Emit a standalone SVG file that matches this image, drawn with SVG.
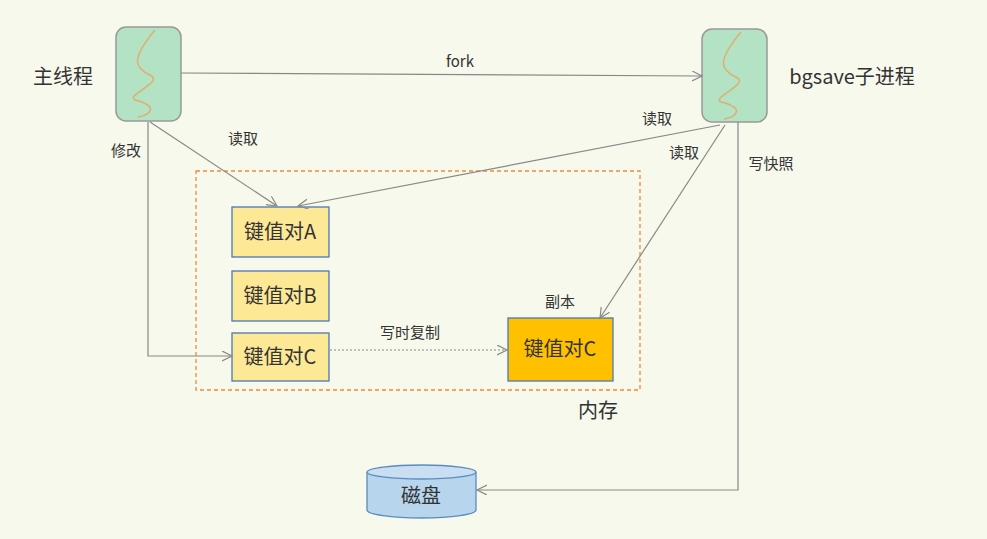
<svg xmlns="http://www.w3.org/2000/svg" width="987" height="539" viewBox="0 0 987 539">
<style>
text{font-family:"Noto Sans CJK SC","Liberation Sans",sans-serif;fill:#333}
.l{font-size:15px}
.big{font-size:20px}
.kv{fill:#fde895;stroke:#4a78b5;stroke-width:1.3}
.c{stroke:#888;stroke-width:1.2;fill:none;marker-end:url(#a)}
</style>
<defs>
<marker id="a" markerWidth="12" markerHeight="12" refX="10" refY="5" orient="auto" markerUnits="userSpaceOnUse"><path d="M0,0 L10,5 L0,10" fill="none" stroke="#888" stroke-width="1.2"/></marker>
</defs>
<rect width="987" height="539" fill="#f6f9ec"/>
<g id="mem"><rect x="196" y="171" width="444" height="219" fill="none" stroke="#f08a3c" stroke-width="1.3" stroke-dasharray="4,3"/><text x="598" y="418" class="big" text-anchor="middle">内存</text></g>
<g id="main"><rect x="116" y="27" width="65" height="94" rx="10" fill="#b3e2c4" stroke="#999" stroke-width="1.5"/><path d="M155,30 C130,60 135,68 150,75 C165,82 125,95 135,100 C160,106 150,115 138,117" fill="none" stroke="#ddb070" stroke-width="1.5"/><text x="63" y="84" class="big" text-anchor="middle">主线程</text></g>
<g id="bgsave"><rect x="702" y="29" width="65" height="93" rx="10" fill="#b3e2c4" stroke="#999" stroke-width="1.5"/><path d="M741,32 C716,62 721,70 736,77 C751,84 711,97 721,102 C746,108 736,117 724,119" fill="none" stroke="#ddb070" stroke-width="1.5"/><text x="852" y="84" class="big" text-anchor="middle">bgsave子进程</text></g>
<g id="kvA"><rect class="kv" x="232" y="207" width="97" height="50"/><text x="280" y="239" class="big" text-anchor="middle" font-size="18">键值对A</text></g>
<g id="kvB"><rect class="kv" x="232" y="271" width="97" height="50"/><text x="280" y="303" class="big" text-anchor="middle">键值对B</text></g>
<g id="kvC"><rect class="kv" x="232" y="333" width="97" height="48"/><text x="280" y="364" class="big" text-anchor="middle">键值对C</text></g>
<g id="copyC"><rect x="508" y="318" width="105" height="63" fill="#ffc000" stroke="#4a78b5" stroke-width="1.3"/><text x="560" y="356" class="big" text-anchor="middle">键值对C</text><text x="560" y="307" class="l" font-size="16" text-anchor="middle">副本</text></g>
<g id="disk"><path d="M367,472 V510 A54.5,8 0 0 0 476,510 V472" fill="#b8d5ee" stroke="#5a8cc0" stroke-width="1.3"/><ellipse cx="421.5" cy="472" rx="54.5" ry="7" fill="#c9def2" stroke="#5a8cc0" stroke-width="1.3"/><text x="421" y="503" class="big" text-anchor="middle">磁盘</text></g>
<g id="connectors">
<line class="c" x1="181" y1="73" x2="702" y2="76"/>
<text x="460" y="67" class="l" text-anchor="middle">fork</text>
<line class="c" x1="150" y1="122" x2="277" y2="206"/>
<text x="243" y="144" class="l" text-anchor="middle">读取</text>
<polyline class="c" points="148,122 148,356 232,356"/>
<text x="126" y="156" class="l" text-anchor="middle">修改</text>
<line class="c" x1="720" y1="125" x2="298" y2="206"/>
<text x="657" y="124" class="l" text-anchor="middle">读取</text>
<line class="c" x1="725" y1="125" x2="600" y2="318"/>
<text x="684" y="158" class="l" text-anchor="middle">读取</text>
<polyline class="c" points="738,122 738,490 477,490"/>
<text x="771" y="169" class="l" text-anchor="middle">写快照</text>
<line class="c" x1="330" y1="350" x2="507" y2="350" stroke-dasharray="2,2"/>
<text x="410" y="338" class="l" text-anchor="middle">写时复制</text>
</g>
</svg>
